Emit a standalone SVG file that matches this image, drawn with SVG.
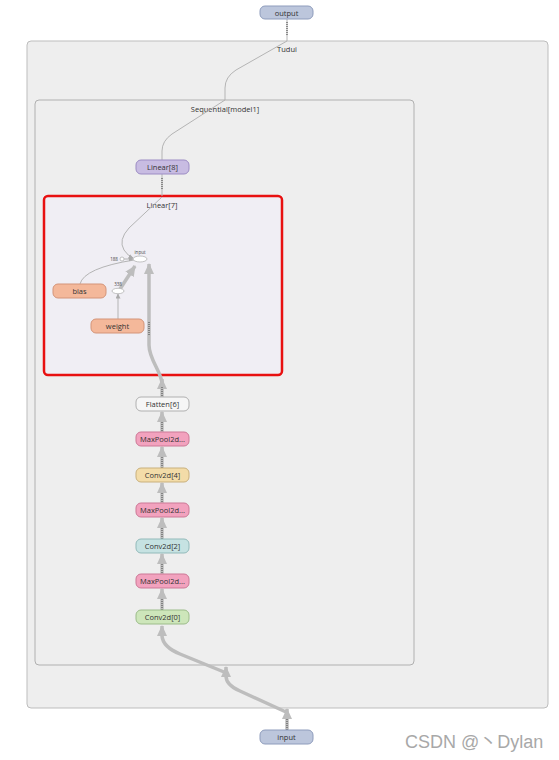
<svg xmlns="http://www.w3.org/2000/svg" width="559" height="760" viewBox="0 0 559 760">
<style>
text{font-family:"Open Sans","Liberation Sans","Noto Sans CJK SC",sans-serif;fill:#333;}
.lbl{font-size:7.5px;text-anchor:middle;}
.tiny{font-size:4.5px;text-anchor:middle;fill:#444;}
.node rect{stroke-width:1;}
.thin{fill:none;stroke:#b4b4b4;stroke-width:1;}
.thick{fill:none;stroke:#bdbdbd;stroke-width:3.5;}
.dots{fill:none;stroke:#6a6a6a;stroke-width:1.4;stroke-dasharray:1 1;}
</style>
<defs>
<marker id="ah" markerUnits="userSpaceOnUse" markerWidth="11" markerHeight="10" refX="10" refY="5" orient="auto"><path d="M0,0 L11,5 L0,10 z" fill="#bdbdbd"/></marker>
<marker id="as" markerUnits="userSpaceOnUse" markerWidth="5" markerHeight="5" refX="4.5" refY="2.5" orient="auto"><path d="M0,0 L5,2.5 L0,5 z" fill="#aaa"/></marker>
</defs>
<rect width="559" height="760" fill="#ffffff"/>
<g id="Tudui"><rect x="27" y="41" width="521" height="667" rx="4" fill="#eeeeee" stroke="#bdbdbd"/><text class="lbl" x="287" y="52">Tudui</text></g>
<g id="Sequential"><rect x="35" y="100" width="379" height="565" rx="4" fill="#eeeeee" stroke="#b0b0b0"/><text class="lbl" x="225" y="112">Sequential[model1]</text></g>
<g id="Linear7"><rect x="44" y="196" width="238" height="179" rx="4" fill="#f0eef4" stroke="#e81010" stroke-width="2.5"/><text class="lbl" x="162" y="208">Linear[7]</text></g>
<g id="connectors">
<path class="thin" d="M287,19 L287,41"/><path class="dots" d="M287,22 L287,35" stroke-width="1.2"/>
<path class="thin" d="M287,41 L236,70 Q225,77 225,88 L225,100"/>
<path class="thin" d="M225,100 L172,134 Q162,141 162,151 L162,160"/>
<path class="thin" d="M162,174 L162,196"/><path class="dots" d="M162,178 L162,190" stroke-width="1.2"/>
<path class="thin" d="M162,197 L129,228 Q118,240 124,250 Q128,256 133,258" marker-end="url(#as)"/>
<path class="thin" d="M80,284 Q84,268 134,260" stroke="#cfcfcf"/>
<circle cx="122" cy="259" r="2" fill="#fff" stroke="#aaa" stroke-width="0.7"/>
<path class="thin" d="M124,259 L133,259" stroke-width="0.7" marker-end="url(#as)"/>
<path class="thin" d="M118,319 L118,294" marker-end="url(#as)"/>
<path class="thick" d="M120,289 L135,266" stroke-width="3" marker-end="url(#ah)"/>
<path class="thick" d="M162,384 C162,372 149,360 149,345 L149,264" marker-end="url(#ah)"/><path class="dots" d="M149,322 L149,335" stroke-width="1.2"/>
<path class="thick" d="M162,397 L162,379" marker-end="url(#ah)"/><path class="dots" d="M162,387 L162,397"/>
<path class="thick" d="M162,432 L162,412" marker-end="url(#ah)"/><path class="dots" d="M162,422 L162,432"/>
<path class="thick" d="M162,468 L162,447" marker-end="url(#ah)"/><path class="dots" d="M162,457 L162,468"/>
<path class="thick" d="M162,503 L162,483" marker-end="url(#ah)"/><path class="dots" d="M162,493 L162,503"/>
<path class="thick" d="M162,539 L162,518" marker-end="url(#ah)"/><path class="dots" d="M162,528 L162,539"/>
<path class="thick" d="M162,574 L162,554" marker-end="url(#ah)"/><path class="dots" d="M162,564 L162,574"/>
<path class="thick" d="M162,610 L162,589" marker-end="url(#ah)"/><path class="dots" d="M162,599 L162,610"/>
<path class="thick" d="M224,672 L180,654 Q163,647 162,636 L162,626" marker-end="url(#ah)"/>
<path class="thick" d="M286,712 L240,691 Q226,685 226,676 L226,667" marker-end="url(#ah)"/>
<path class="thick" d="M287,730 L287,709" marker-end="url(#ah)"/><path class="dots" d="M287,719 L287,730"/>
</g>
<g id="op_input"><ellipse cx="140" cy="259" rx="7" ry="3" fill="#fff" stroke="#aaa" stroke-width="0.7"/><text class="tiny" x="140" y="254">input</text><text class="tiny" x="114" y="260.5">188</text></g>
<g id="op_sub"><ellipse cx="118" cy="291" rx="6" ry="2.7" fill="#fff" stroke="#aaa" stroke-width="0.7"/><text class="tiny" x="118" y="286">338</text></g>
<g id="output" class="node"><rect x="260" y="6" width="53" height="13" rx="5" fill="#bcc6dc" stroke="#8e9cbc"/><text class="lbl" x="286.5" y="15.5">output</text></g>
<g id="Linear8" class="node"><rect x="136" y="160" width="53" height="14" rx="5" fill="#c8bce2" stroke="#9c8cc4"/><text class="lbl" x="162.5" y="170">Linear[8]</text></g>
<g id="bias" class="node"><rect x="53" y="284" width="53" height="14" rx="5" fill="#f4b89a" stroke="#d49478"/><text class="lbl" x="79.5" y="294">bias</text></g>
<g id="weight" class="node"><rect x="91" y="319" width="53" height="14" rx="5" fill="#f4b89a" stroke="#d49478"/><text class="lbl" x="117.5" y="329">weight</text></g>
<g id="Flatten6" class="node"><rect x="136" y="397" width="53" height="14" rx="5" fill="#f6f6f6" stroke="#b0b0b0"/><text class="lbl" x="162.5" y="407">Flatten[6]</text></g>
<g id="MaxPool5" class="node"><rect x="136" y="432" width="53" height="14" rx="5" fill="#f2a2be" stroke="#cc7896"/><text class="lbl" x="162.5" y="442">MaxPool2d...</text></g>
<g id="Conv2d4" class="node"><rect x="136" y="468" width="53" height="14" rx="5" fill="#f3dca8" stroke="#c9b07c"/><text class="lbl" x="162.5" y="478">Conv2d[4]</text></g>
<g id="MaxPool3" class="node"><rect x="136" y="503" width="53" height="14" rx="5" fill="#f2a2be" stroke="#cc7896"/><text class="lbl" x="162.5" y="513">MaxPool2d...</text></g>
<g id="Conv2d2" class="node"><rect x="136" y="539" width="53" height="14" rx="5" fill="#c6e2e2" stroke="#92baba"/><text class="lbl" x="162.5" y="549">Conv2d[2]</text></g>
<g id="MaxPool1" class="node"><rect x="136" y="574" width="53" height="14" rx="5" fill="#f2a2be" stroke="#cc7896"/><text class="lbl" x="162.5" y="584">MaxPool2d...</text></g>
<g id="Conv2d0" class="node"><rect x="136" y="610" width="53" height="14" rx="5" fill="#cde6ba" stroke="#9cbc8a"/><text class="lbl" x="162.5" y="620">Conv2d[0]</text></g>
<g id="input" class="node"><rect x="260" y="730" width="53" height="14" rx="5" fill="#bcc6dc" stroke="#8e9cbc"/><text class="lbl" x="286.5" y="740">input</text></g>
<text x="405" y="748" style="font-size:18px;fill:#a8a8a8;font-family:'Liberation Sans','Noto Sans CJK SC',sans-serif">CSDN @丶Dylan</text>
</svg>
